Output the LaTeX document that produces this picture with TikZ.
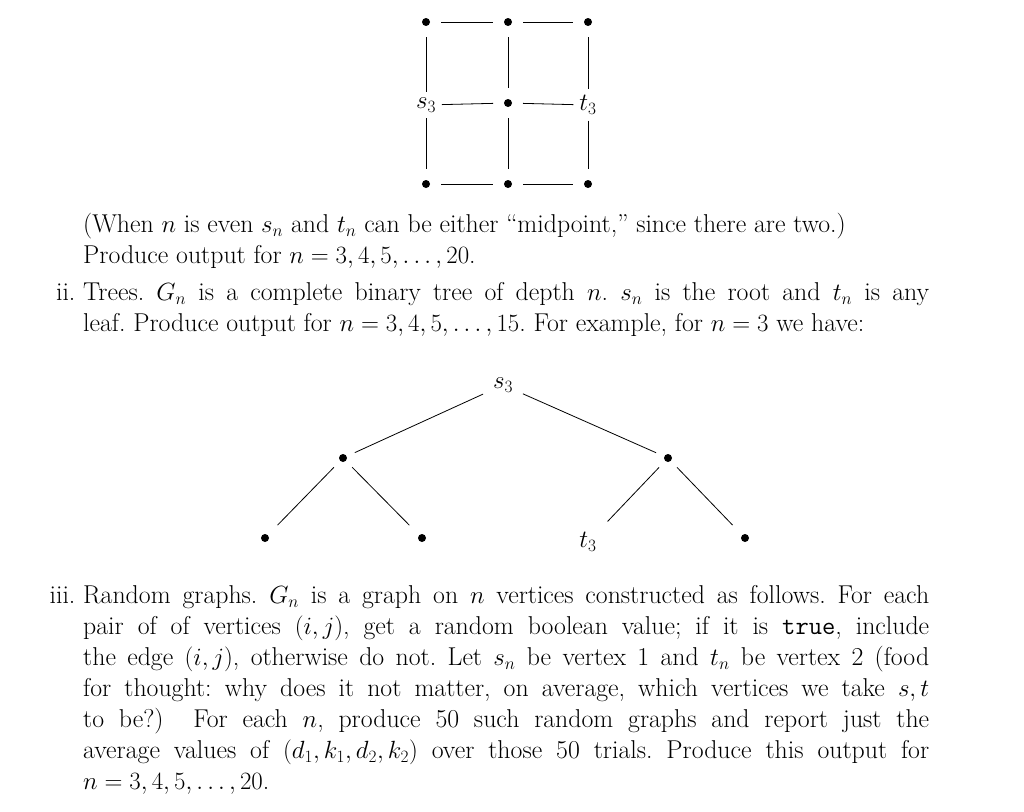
\documentclass[tikz,border=0pt]{standalone}
\begin{document}
\frenchspacing
\begin{tikzpicture}[x=1pt,y=-1pt,
  dot/.style={circle,fill=black,inner sep=0pt,minimum size=8pt,outer sep=11pt},
  lab/.style={inner sep=1pt,outer sep=5pt,font=\fontsize{25.8}{31}\selectfont},
  para/.style={anchor=north west,inner sep=0pt,text width=846pt,align=justify,font=\fontsize{25.8}{31}\selectfont\frenchspacing},
  edge/.style={line width=0.8pt}]
\useasboundingbox (0,0) rectangle (1024,811);
% grid
\node[dot] (a1) at (426,22) {};
\node[dot] (a2) at (508,22) {};
\node[dot] (a3) at (588,22) {};
\node[lab] (b1) at (426,105) {$s_3$};
\node[dot] (b2) at (508,103) {};
\node[lab] (b3) at (588,105) {$t_3$};
\node[dot] (c1) at (426,184) {};
\node[dot] (c2) at (508,184) {};
\node[dot] (c3) at (588,184) {};
\foreach \u/\v in {a1/a2,a2/a3,b1/b2,b2/b3,c1/c2,c2/c3,a1/b1,b1/c1,a2/b2,b2/c2,a3/b3,b3/c3}
  \draw[edge] (\u) -- (\v);
% text 1
\node[para] (p1) at (83,213) {(When $n$ is even $s_n$ and $t_n$ can be either ``midpoint,'' since there are two.)\\
Produce output for $n=3,4,5,\ldots,20$.};
\node[para] (p2) at (83,282) {\llap{ii.\ }Trees. $G_n$ is a complete binary tree of depth $n$. $s_n$ is the root and $t_n$ is any\linebreak
leaf. Produce output for $n=3,4,5,\ldots,15$. For example, for $n=3$ we have:};
% tree
\node[lab,outer sep=9pt] (r) at (503,385) {$s_3$};
\node[dot,outer sep=9pt] (l) at (343,458) {};
\node[dot,outer sep=9pt] (m) at (668,458) {};
\node[dot,outer sep=14pt] (l1) at (265,538) {};
\node[dot,outer sep=14pt] (l2) at (422,538) {};
\node[lab,outer sep=10pt] (l3) at (588,542) {$t_3$};
\node[dot,outer sep=14pt] (l4) at (745,538) {};
\foreach \u/\v in {r/l,r/m,l/l1,l/l2,m/l3,m/l4}
  \draw[edge] (\u) -- (\v);
% text 3
\node[para] (p3) at (83,585) {\llap{iii.\ }Random graphs. $G_n$ is a graph on $n$ vertices constructed as follows. For each\linebreak
pair of of vertices $(i,j)$, get a random boolean value; if it is \texttt{true}, include\linebreak
the edge $(i,j)$, otherwise do not. Let $s_n$ be vertex 1 and $t_n$ be vertex 2 (food\linebreak
for thought: why does it not matter, on average, which vertices we take $s,t$\linebreak
to be?) \ For each $n$, produce 50 such random graphs and report just the\linebreak
average values of $(d_1,k_1,d_2,k_2)$ over those 50 trials. Produce this output for\linebreak
$n=3,4,5,\ldots,20$.};
\end{tikzpicture}
\end{document}
